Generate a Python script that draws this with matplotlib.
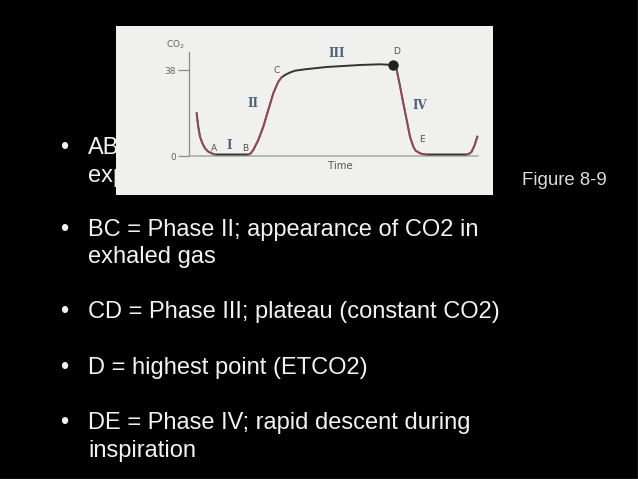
import matplotlib.pyplot as plt
from matplotlib.lines import Line2D

# capnogram trace (time in arbitrary units, CO2 in mmHg)
time = [2.83, 3.28, 3.97, 4.84, 5.70, 6.74, 8.01, 9.15,
        20.66, 21.42, 22.38, 24.11, 25.84, 27.56, 29.29, 31.02, 32.12, 33.33,
        35.06, 36.79, 40.24, 47.74, 59.24, 66.15, 70.74,
        71.92, 73.06, 74.20, 75.37, 76.51, 77.65, 78.41, 79.38, 80.66, 82.28,
        96.10, 97.06, 97.82, 98.79, 99.76]
co2 = [18.87, 13.70, 8.53, 5.52, 3.40, 1.99, 1.19, 0.66,
       0.66, 1.10, 2.65, 7.07, 12.95, 20.33, 27.71, 32.83, 34.69, 35.81,
       36.90, 37.69, 38.31, 39.33, 40.21, 40.52, 40.21,
       38.00, 30.93, 23.29, 15.91, 8.53, 4.11, 2.43, 1.64, 0.88, 0.66,
       0.66, 1.10, 1.90, 4.64, 8.53]
d_point = (70.74, 40.21)

point_labels = ["A", "B", "C", "D", "E"]
point_pos = [(8.91, 3.4), (19.52, 3.4), (30.57, 37.56), (71.92, 46.1), (80.55, 7.07)]
phase_labels = ["I", "II", "III", "IV"]
phase_pos = [(14.09, 4.86), (22.38, 23.29), (51.19, 45.5), (80.0, 22.5)]

y_ticks = [0, 38]

# first bullet is mostly covered by the pasted figure; only its start shows
bullets = [
    ["AB", "exp"],
    ["BC = Phase II; appearance of CO2 in", "exhaled gas"],
    ["CD = Phase III; plateau (constant CO2)"],
    ["D = highest point (ETCO2)"],
    ["DE = Phase IV; rapid descent during", "inspiration"],
]
bullet_baselines = [154, 236, 318, 374, 429.5]
caption = "Figure 8-9"

W, H = 638, 479
fig = plt.figure(figsize=(W / 100, H / 100), dpi=100, facecolor="black")

def fx(px):
    return px / W

def fy(py):
    return 1 - py / H

# slide text
for lines, base in zip(bullets, bullet_baselines):
    fig.text(fx(64), fy(base), "\u2022", color="#f2f2f2", fontsize=17,
             family="Liberation Sans", ha="center", va="baseline", zorder=1)
    for i, line in enumerate(lines):
        fig.text(fx(88), fy(base + 27.5 * i), line, color="#f2f2f2", fontsize=17,
                 family="Liberation Sans", ha="left", va="baseline", zorder=1)

fig.text(fx(521.5), fy(185), caption, color="#dcdcdc", fontsize=13.4,
         family="Liberation Sans", ha="left", va="baseline", zorder=1)

# pasted figure background
box = fig.add_axes([fx(116), fy(195), fx(493) - fx(116), fy(26) - fy(195)], zorder=5)
box.set_facecolor("#f0f0ef")
box.set_xticks([])
box.set_yticks([])
for s in box.spines.values():
    s.set_visible(False)

# capnogram
ax = fig.add_axes([fx(188.5), fy(156), fx(478) - fx(188.5), fy(52) - fy(156)], zorder=6)
ax.patch.set_visible(False)
ax.set_xlim(0, 100)
ax.set_ylim(0, (156 - 52) * 38 / 86)
ax.spines["top"].set_visible(False)
ax.spines["right"].set_visible(False)
ax.spines["left"].set_color("#8c8c8c")
ax.spines["bottom"].set_color("#a6b2a4")
ax.spines["left"].set_linewidth(0.9)
ax.spines["bottom"].set_linewidth(1.2)
ax.set_xticks([])
ax.set_yticks(y_ticks)
ax.set_yticklabels([str(v) for v in y_ticks])
ax.tick_params(axis="y", length=8, width=0.9, color="#8c8c8c", labelsize=6.5,
               labelcolor="#666666", pad=1)

ax.plot(time, co2, color="#3a3033", lw=1.4, clip_on=False, zorder=3)
red_parts = [(0, 8), (8, 17), (24, 35), (35, 40)]
for a, b in red_parts:
    ax.plot(time[a:b], co2[a:b], color="#a84f5c", lw=1.2, alpha=0.85,
            clip_on=False, zorder=4)
ax.plot(*d_point, "o", color="#222222", ms=6.5, clip_on=False, zorder=5)

for lab, (x, y) in zip(point_labels, point_pos):
    ax.text(x, y, lab, color="#505050", fontsize=6.5, ha="center", va="center")
for lab, (x, y) in zip(phase_labels, phase_pos):
    ax.text(x, y, lab, color="#51627a", fontsize=8.5, fontweight="bold",
            family="DejaVu Serif", ha="center", va="center")

ax.text(-4.66, 49.05, "CO$_2$", color="#606060", fontsize=6.5, ha="center", va="center")
ax.text(52.3, -4.4, "Time", color="#555555", fontsize=7.3, ha="center", va="center")

# thin frame at the slide's lower and right edge
fig.add_artist(Line2D([0, 1], [0.5 / H, 0.5 / H], color="#6a6a6a", lw=1))
fig.add_artist(Line2D([1 - 0.5 / W, 1 - 0.5 / W], [0, 1], color="#6a6a6a", lw=1))

fig.savefig("out.png", dpi=100, facecolor="black")
